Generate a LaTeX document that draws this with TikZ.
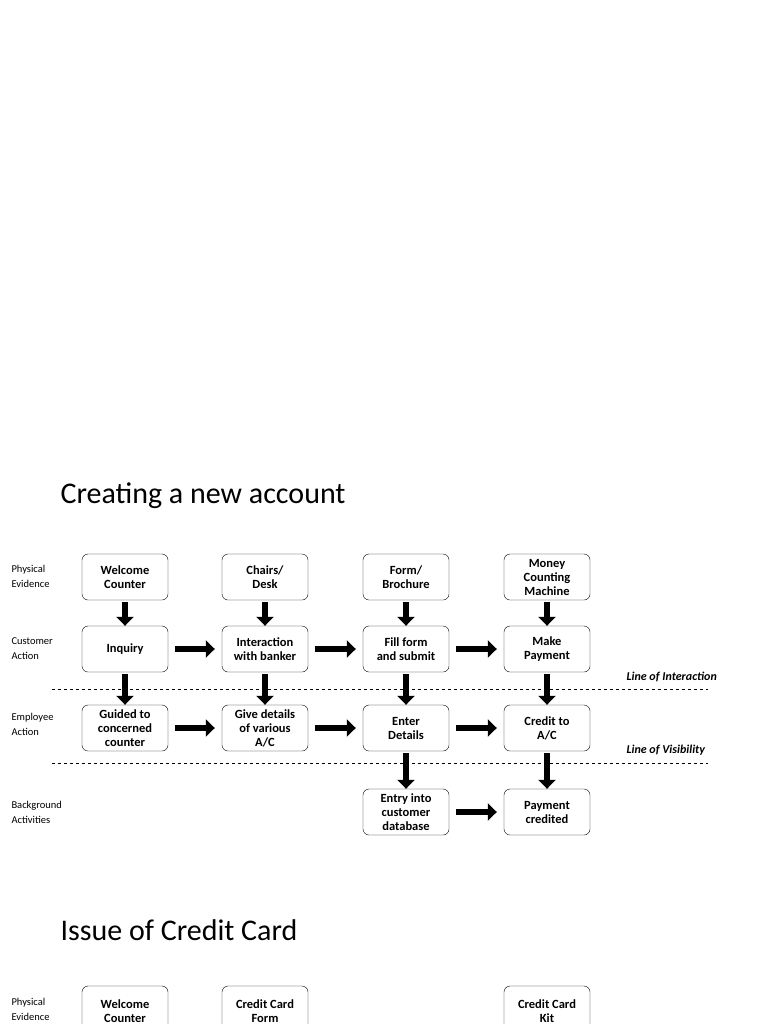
\documentclass[tikz,border=0pt]{standalone}
\usepackage{fontspec}
\setmainfont{Carlito}
\usetikzlibrary{arrows.meta}
\begin{document}
\begin{tikzpicture}[x=1pt,y=-1pt,
  box/.style={draw,rounded corners=6pt,minimum width=86pt,minimum height=46pt,align=center,font=\bfseries\fontsize{12.5}{14}\selectfont,inner sep=1pt},
  lab/.style={anchor=west,align=left,font=\fontsize{10.5}{15}\selectfont},
  big/.style={line width=6.5pt,-{Triangle[width=17pt,length=9pt]},shorten <=2pt,shorten >=0pt},
  dline/.style={dashed,line width=0.6pt},
  lline/.style={anchor=west,font=\bfseries\itshape\fontsize{12}{14}\selectfont}]
\useasboundingbox (0,0) rectangle (768,1024);
\fill[white] (0,0) rectangle (768,1024);
\node[anchor=west,font=\fontsize{30}{34}\selectfont] (t1) at (57,496) {Creating a new account};
\node[anchor=west,font=\fontsize{30}{34}\selectfont] (t2) at (57,930) {Issue of Credit Card};
\node[lab] (l1) at (8,576) {Physical\\Evidence};
\node[lab] (l2) at (8,649) {Customer\\Action};
\node[lab] (l3) at (8,724) {Employee\\Action};
\node[lab] (l4) at (8,812) {Background\\Activities};
\node[lab] (l5) at (8,1009) {Physical\\Evidence};
\coordinate (d1a) at (52,689); \coordinate (d1b) at (708,689);
\coordinate (d2a) at (52,763); \coordinate (d2b) at (708,763);
\draw[dline] (d1a) -- (d1b);
\draw[dline] (d2a) -- (d2b);
\node[lline] (li) at (623,677) {Line of Interaction};
\node[lline] (lv) at (623,750) {Line of Visibility};
\node[box] (a1) at (125,577) {Welcome\\Counter};
\node[box] (b1) at (265,577) {Chairs/\\Desk};
\node[box] (c1) at (406,577) {Form/\\Brochure};
\node[box] (e1) at (547,577) {Money\\Counting\\Machine};
\node[box] (a2) at (125,649) {Inquiry};
\node[box] (b2) at (265,649) {Interaction\\with banker};
\node[box] (c2) at (406,649) {Fill form\\and submit};
\node[box] (e2) at (547,649) {Make\\Payment};
\node[box] (a3) at (125,728) {Guided to\\concerned\\counter};
\node[box] (b3) at (265,728) {Give details\\of various\\A/C};
\node[box] (c3) at (406,728) {Enter\\Details};
\node[box] (e3) at (547,728) {Credit to\\A/C};
\node[box] (c4) at (406,812) {Entry into\\customer\\database};
\node[box] (e4) at (547,812) {Payment\\credited};
\node[box,minimum height=50pt] (f1) at (125,1011) {Welcome\\Counter};
\node[box,minimum height=50pt] (g1) at (265,1011) {Credit Card\\Form};
\node[box,minimum height=50pt] (h1) at (547,1011) {Credit Card\\Kit};
\foreach \u/\v in {a1/a2,b1/b2,c1/c2,e1/e2,a2/a3,b2/b3,c2/c3,e2/e3,c3/c4,e3/e4}
  \draw[big] (\u.south) -- (\v.north);
\foreach \u/\v in {a2/b2,b2/c2,c2/e2,a3/b3,b3/c3,c3/e3,c4/e4}
  \draw[big,shorten <=7pt,shorten >=7pt] (\u.east) -- (\v.west);
\end{tikzpicture}
\end{document}
